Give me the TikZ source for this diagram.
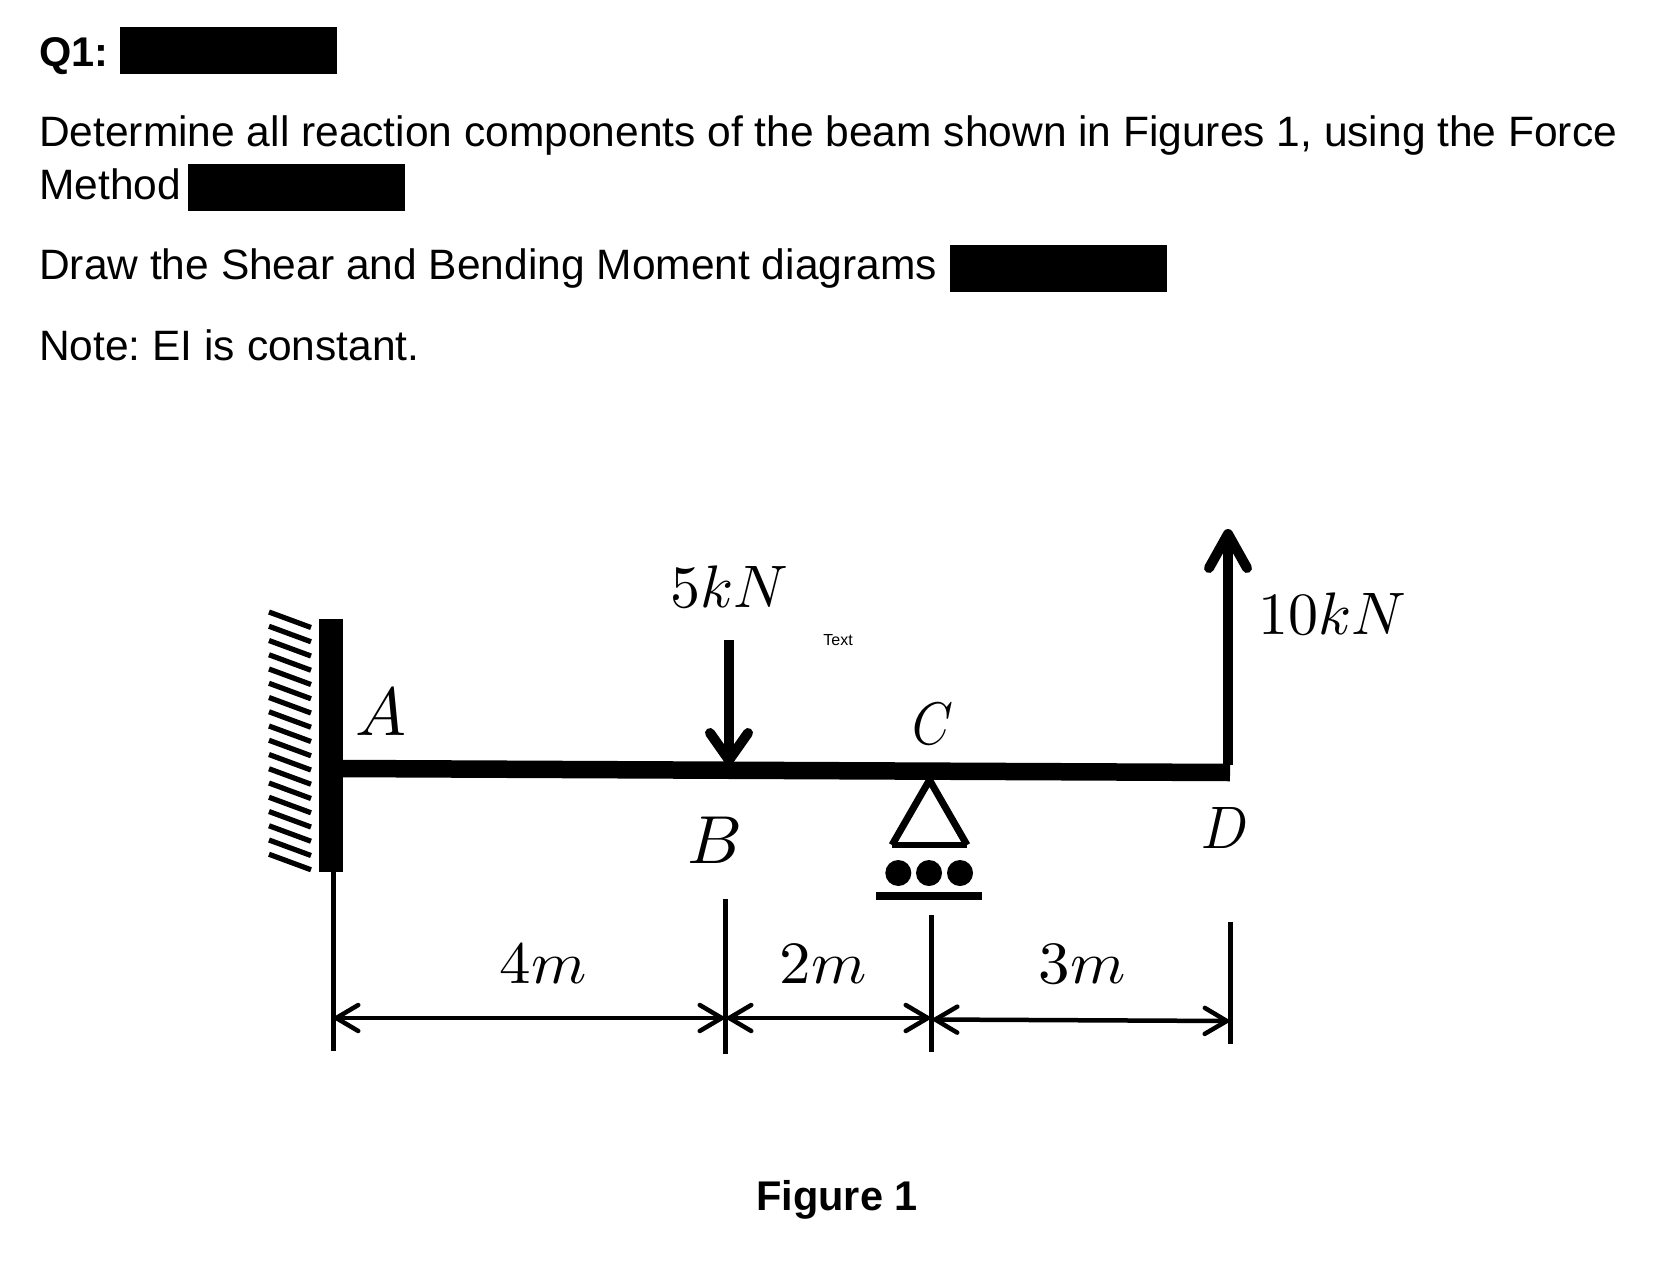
\documentclass[tikz,border=0pt]{standalone}
\usepackage{graphicx}
\usepackage{fontspec}
\setmainfont{Liberation Sans}
\usetikzlibrary{arrows.meta}
\frenchspacing
\newcommand{\lbl}[1]{\scalebox{6}{$#1$}}
\newcommand{\widelbl}[1]{\scalebox{6.3}[6]{$#1$}}
\newcommand{\biglbl}[1]{\scalebox{6.8}{$#1$}}
\tikzset{
  body/.style={anchor=base west,inner sep=0pt,font=\fontsize{42.5}{50}\selectfont},
  head/.style={anchor=base west,inner sep=0pt,font=\fontsize{41.5}{50}\selectfont\bfseries},
  redact/.style={fill=black,draw=none},
  lab/.style={anchor=base,inner sep=0pt},
  beamline/.style={line width=17.5pt,black},
  forcedown/.style={line width=10pt,black,-{Straight Barb[length=27pt,width=38pt,round]}},
  forceup/.style={line width=10pt,black,-{Straight Barb[length=34pt,width=38pt,round]}},
  dimline/.style={line width=4.5pt,black,{Straight Barb[length=22pt,width=26pt,round]}-{Straight Barb[length=22pt,width=26pt,round]}},
  tick/.style={line width=5pt,black},
  hatch/.style={line width=5.2pt,black},
  supportline/.style={line width=6.5pt,black},
  roller/.style={circle,fill=black,inner sep=0pt,minimum size=26pt},
}
\begin{document}
\begin{tikzpicture}[x=1pt,y=-1pt]
\path[use as bounding box,fill=white] (0,0) rectangle (1676,1280);
% header text
\node[head] (q) at (39,66) {Q1:};
\fill[redact] (120,27) rectangle (337,74);
\node[body] (t1) at (39,146) {Determine all reaction components of the beam shown in Figures 1, using the Force};
\node[body] (t2) at (39,199) {Method};
\fill[redact] (188,164) rectangle (405,211);
\node[body] (t3) at (39,279.5) {Draw the Shear and Bending Moment diagrams};
\fill[redact] (950,245) rectangle (1167,292);
\node[body] (t4) at (39,360.5) {Note: EI is constant.};
% wall hatching
\foreach \i in {0,...,17}
  \draw[hatch] (269,{612+14.25*\i}) -- (311,{627.5+14.25*\i});
% wall and beam
\node[fill=black,inner sep=0pt,minimum width=24pt,minimum height=252.5pt] (wall) at (331,745.5) {};
\coordinate (beamA) at (343,768.5);
\coordinate (beamD) at (1230,772.5);
\draw[beamline] (beamA) -- (beamD);
% forces
\coordinate (f1) at (729,640);
\coordinate (f1t) at (729,765);
\draw[forcedown] (f1) -- (f1t);
\coordinate (f2) at (1228,765);
\coordinate (f2t) at (1228,529);
\draw[forceup] (f2) -- (f2t);
% support
\coordinate (apex) at (929.5,780);
\coordinate (baseL) at (892,845);
\coordinate (baseR) at (967,845);
\draw[line width=7pt,black] (baseR) -- (apex) -- (baseL);
\draw[supportline] (baseL) -- (baseR);
\node[roller] (r1) at (898.3,873) {};
\node[roller] (r2) at (929,873) {};
\node[roller] (r3) at (960,873) {};
\coordinate (gL) at (876,896);
\coordinate (gR) at (982,896);
\draw[line width=7.3pt,black] (gL) -- (gR);
% dimension ticks
\coordinate (tA1) at (333.5,871);
\coordinate (tA2) at (333.5,1051);
\coordinate (tB1) at (725,899);
\coordinate (tB2) at (725,1054);
\coordinate (tC1) at (931.3,915);
\coordinate (tC2) at (931.3,1052);
\coordinate (tD1) at (1230,922);
\coordinate (tD2) at (1230,1044);
\draw[tick] (tA1) -- (tA2);
\draw[tick] (tB1) -- (tB2);
\draw[tick] (tC1) -- (tC2);
\draw[tick] (tD1) -- (tD2);
% dimension lines
\coordinate (d1) at (334,1018);
\coordinate (d2) at (724,1018);
\coordinate (d3) at (727,1018);
\coordinate (d4) at (930,1018);
\coordinate (d5) at (933,1019.5);
\coordinate (d6) at (1229,1021);
\draw[dimline] (d1) -- (d2);
\draw[dimline] (d3) -- (d4);
\draw[dimline] (d5) -- (d6);
% labels
\node[lab] (l5) at (729,607) {\lbl{5kN}};
\node[lab] (lA) at (381,735) {\biglbl{A}};
\node[lab] (lB) at (715,863) {\biglbl{B}};
\node[lab] (lC) at (933,744) {\scalebox{5.2}[6]{$C$}};
\node[lab] (lD) at (1225,848) {\scalebox{5.5}[6]{$D$}};
\node[lab] (l10) at (1332,634) {\lbl{10kN}};
\node[lab] (l4) at (543,983) {\widelbl{4m}};
\node[lab] (l2) at (823,983) {\widelbl{2m}};
\node[lab] (l3) at (1082,983) {\widelbl{3m}};
\node[anchor=base,inner sep=0pt,font=\fontsize{16}{20}\selectfont] (txt) at (838,645) {Text};
\node[anchor=base,inner sep=0pt,font=\fontsize{41.5}{50}\selectfont\bfseries] (fig) at (837,1210) {Figure 1};
\end{tikzpicture}
\end{document}
